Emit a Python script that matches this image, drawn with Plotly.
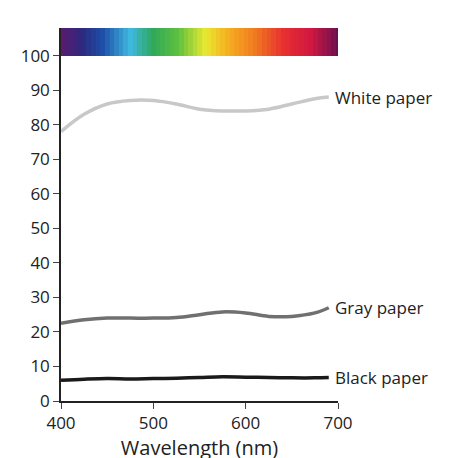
import numpy as np
import plotly.graph_objects as go

wl = [400, 425, 450, 475, 500, 525, 550, 575, 600, 625, 650, 675, 690]
white = [78, 83, 86, 87, 87, 86, 84.5, 84, 84, 84.5, 86, 87.5, 88]
gray = [22.5, 23.5, 24, 24, 24, 24.2, 25, 25.8, 25.5, 24.5, 24.5, 25.5, 27]
black = [6, 6.3, 6.5, 6.4, 6.5, 6.6, 6.8, 7, 6.9, 6.8, 6.7, 6.7, 6.8]

spec_x = list(range(400, 701, 5))
spec_colors = [
    [0.0, "#5a1a6e"], [0.08, "#2a2a80"], [0.15, "#1f4fa8"], [0.25, "#3fb8e0"],
    [0.33, "#2fa85a"], [0.42, "#5cc040"], [0.52, "#e8e830"], [0.6, "#f5b020"],
    [0.7, "#f07a20"], [0.8, "#e83030"], [0.9, "#d01840"], [1.0, "#6a1050"],
]

fig = go.Figure()
fig.add_trace(go.Heatmap(x=spec_x, y0=104, dy=8, z=[spec_x],
                         colorscale=spec_colors, showscale=False, hoverinfo="skip"))
for name, ys, col in [("White paper", white, "#c8c8c8"),
                      ("Gray paper", gray, "#707070"),
                      ("Black paper", black, "#1a1a1a")]:
    fig.add_trace(go.Scatter(x=wl, y=ys, mode="lines", line=dict(color=col, width=3.5, shape="spline"),
                             showlegend=False))
    fig.add_annotation(x=695, y=ys[-1], text=name, showarrow=False, xanchor="left",
                       xref="x", yref="y", font=dict(size=17, color="#222"))

fig.update_layout(
    width=474, height=458, plot_bgcolor="white", paper_bgcolor="white",
    margin=dict(l=53, r=144, t=20, b=65),
    font=dict(family="Open Sans", size=17, color="#222"),
)
fig.update_xaxes(range=[400, 700], tickvals=[400, 500, 600, 700], showgrid=False,
                 showline=True, linecolor="#222", linewidth=1.5, ticks="outside", ticklen=6,
                 title=dict(text="Wavelength (nm)", standoff=4), zeroline=False, automargin=False)
fig.update_yaxes(range=[0, 108], tickvals=list(range(0, 101, 10)), showgrid=False,
                 showline=True, linecolor="#222", linewidth=1.5, ticks="outside", ticklen=6,
                 zeroline=False, automargin=False)
fig.write_html("out.html")
